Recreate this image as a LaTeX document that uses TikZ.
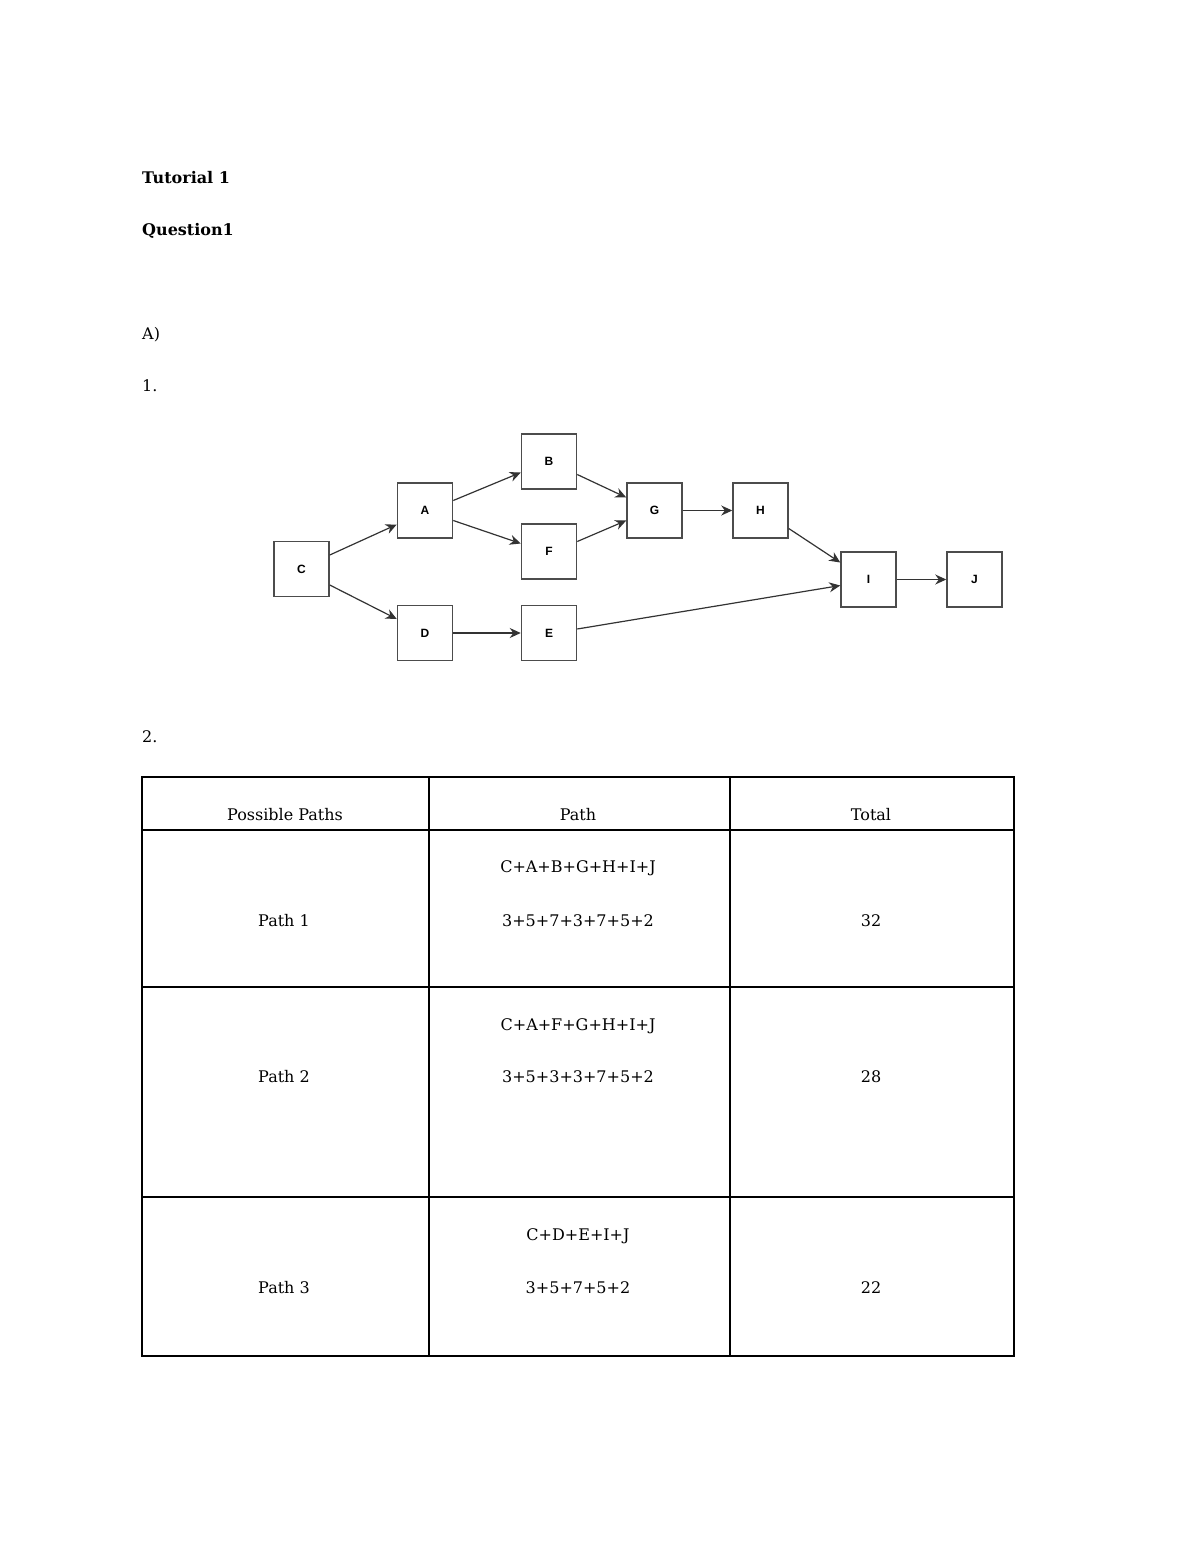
\documentclass[tikz,border=0pt]{standalone}
\usepackage{fontspec}
\setmainfont{DejaVu Serif}
\newfontfamily\lsans{Liberation Sans}
\usetikzlibrary{arrows.meta}
\begin{document}
\begin{tikzpicture}[x=1pt,y=-1pt,
  box/.style={draw=black!70,line width=1.5pt,minimum width=55pt,minimum height=55pt,inner sep=0pt,font=\lsans\bfseries\fontsize{12}{14}\selectfont},
  conn/.style={draw=black!80,line width=1.2pt,-{Stealth[length=11pt,width=10pt]}},
  tx/.style={font=\fontsize{16}{18}\selectfont,inner sep=0pt},
  hd/.style={font=\bfseries\fontsize{16}{18}\selectfont,inner sep=0pt,anchor=west},
  tb/.style={line width=2pt}]
\useasboundingbox (0,0) rectangle (1200,1553);
\fill[white] (0,0) rectangle (1200,1553);
\node[hd] (t1) at (142,178) {Tutorial 1};
\node[hd] (t2) at (142,231) {Question1};
\node[tx,anchor=west] (t3) at (142,335) {A)};
\node[tx,anchor=west] (t4) at (142,386) {1.};
\node[tx,anchor=west] (t5) at (142,737) {2.};
% graph
\node[box] (C) at (301.5,569) {C};
\node[box] (A) at (425,510.5) {A};
\node[box] (B) at (549,461.5) {B};
\node[box] (F) at (549,551.5) {F};
\node[box] (D) at (425,633) {D};
\node[box] (E) at (549,633) {E};
\node[box] (G) at (654.5,510.5) {G};
\node[box] (H) at (760.5,510.5) {H};
\node[box] (I) at (868.5,579.5) {I};
\node[box] (J) at (974.5,579.5) {J};
\draw[conn] ([yshift=14pt]C.east) -- ([yshift=-14pt]A.west);
\draw[conn] ([yshift=-16pt]C.east) -- ([yshift=14pt]D.west);
\draw[conn] ([yshift=10pt]A.east) -- ([yshift=-11pt]B.west);
\draw[conn] ([yshift=-10pt]A.east) -- ([yshift=8pt]F.west);
\draw[conn] ([yshift=-13pt]B.east) -- ([yshift=13pt]G.west);
\draw[conn] ([yshift=10pt]F.east) -- ([yshift=-10pt]G.west);
\draw[conn] (D.east) -- (E.west);
\draw[conn] (G.east) -- (H.west);
\draw[conn] ([yshift=-18pt]H.east) -- ([yshift=17pt]I.west);
\draw[conn] ([yshift=4pt]E.east) -- ([yshift=-6pt]I.west);
\draw[conn] (I.east) -- (J.west);
% table
\draw[tb] (142,777) rectangle (1014,1356);
\draw[tb] (429,777) -- (429,1356);
\draw[tb] (730,777) -- (730,1356);
\draw[tb] (142,830) -- (1014,830);
\draw[tb] (142,987) -- (1014,987);
\draw[tb] (142,1197) -- (1014,1197);
\node[tx] (h1) at (285,815) {Possible Paths};
\node[tx] (h2) at (578,815) {Path};
\node[tx] (h3) at (871,815) {Total};
\node[tx] (p1) at (284,921) {Path 1};
\node[tx] (q1) at (578,868) {C+A+B+G+H+I+J};
\node[tx] (r1) at (578,921) {3+5+7+3+7+5+2};
\node[tx] (s1) at (871,921) {32};
\node[tx] (p2) at (284,1077) {Path 2};
\node[tx] (q2) at (578,1026) {C+A+F+G+H+I+J};
\node[tx] (r2) at (578,1077) {3+5+3+3+7+5+2};
\node[tx] (s2) at (871,1077) {28};
\node[tx] (p3) at (284,1288) {Path 3};
\node[tx] (q3) at (578,1236) {C+D+E+I+J};
\node[tx] (r3) at (578,1288) {3+5+7+5+2};
\node[tx] (s3) at (871,1288) {22};
\end{tikzpicture}
\end{document}
